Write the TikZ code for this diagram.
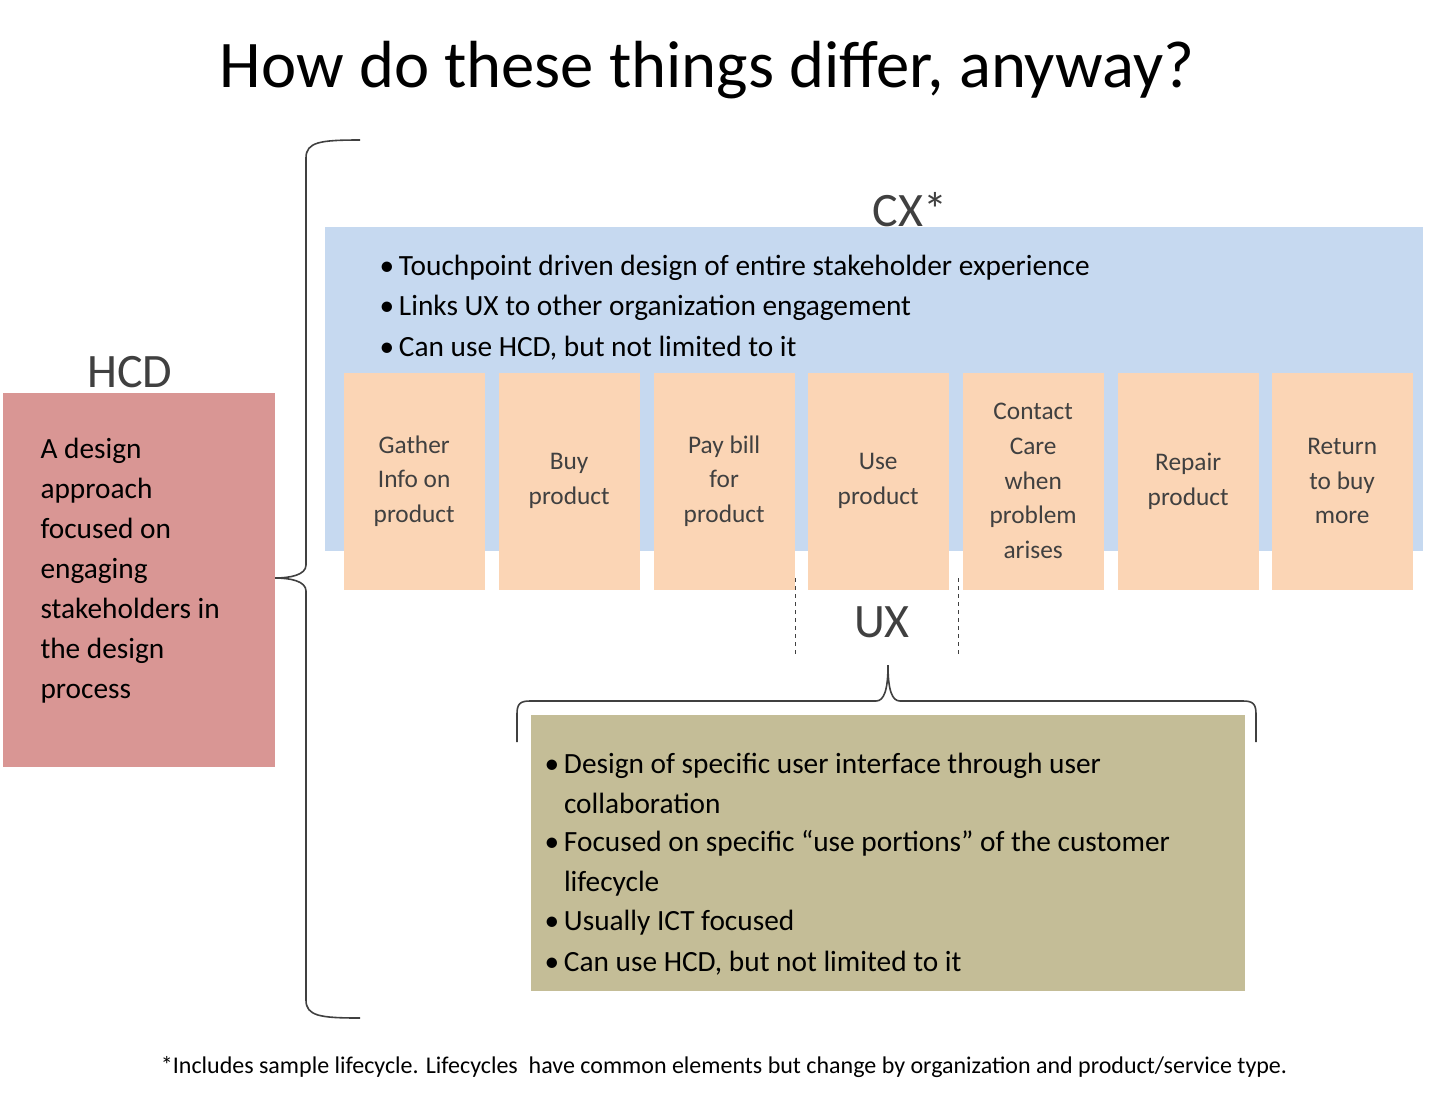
\documentclass[tikz,border=0pt]{standalone}
\usepackage{fontspec}
\setmainfont{Carlito}
\definecolor{cxblue}{RGB}{198,217,240}
\definecolor{stepfill}{RGB}{251,213,181}
\definecolor{hcdpink}{RGB}{217,150,148}
\definecolor{uxolive}{RGB}{196,189,151}
\definecolor{darktext}{RGB}{64,64,64}
\tikzset{every picture/.style={line width=0.75pt}}
\tikzset{
  lifestep/.style={fill=stepfill, draw=none, minimum width=106pt, minimum height=163pt, anchor=north west, inner sep=0pt, text=darktext, align=center, font=\fontsize{19}{26}\selectfont},
  bigtag/.style={text=darktext, font=\fontsize{36}{40}\selectfont, inner sep=0.75pt},
  bullet/.style={anchor=west, inner sep=0.75pt, font=\fontsize{22}{30}\selectfont},
  brace/.style={draw={rgb, 255:red, 64; green, 64; blue, 64}, line width=1.2pt}
}
\begin{document}
\begin{tikzpicture}[x=0.75pt,y=0.75pt,yscale=-1,xscale=1]
\useasboundingbox (0,0) rectangle (1450,1101);

% Title
\node (title) at (707,70) [inner sep=0.75pt, font=\fontsize{50}{56}\selectfont] {How do these things differ, anyway?};

% Left brace
\draw [brace] (360,140) .. controls (320,140) and (306,142) .. (306,158) -- (306,565) .. controls (306,575) and (290,578) .. (275,578) .. controls (290,578) and (306,581) .. (306,591) -- (306,1000) .. controls (306,1016) and (320,1018) .. (360,1018);

% CX area
\fill [cxblue] (325,227) rectangle (1423,551);
\node (cx) at (910,210) [bigtag] {CX*};
\node (cx1) at (378,268) [bullet] {\textbullet\,Touchpoint driven design of entire stakeholder experience};
\node (cx2) at (378,308) [bullet] {\textbullet\,Links UX to other organization engagement};
\node (cx3) at (378,348) [bullet] {\textbullet\,Can use HCD, but not limited to it};

% Lifecycle steps
\node (gather) at (343,372) [lifestep] {Gather\\Info on\\product};
\node (buy) at (498,372) [lifestep] {Buy\\product};
\node (pay) at (653,372) [lifestep] {Pay bill\\for\\product};
\node (use) at (807,372) [lifestep] {Use\\product};
\node (contact) at (962,372) [lifestep] {Contact\\Care\\when\\problem\\arises};
\node (repair) at (1117,372) [lifestep] {Repair\\product};
\node (return) at (1271,372) [lifestep] {Return\\to buy\\more};

% UX span
\draw [dashed, darktext] (795,578) -- (795,655);
\draw [dashed, darktext] (958,578) -- (958,655);
\node (ux) at (882,622) [bigtag] {UX};

% HCD
\node (hcd) at (130,372) [bigtag] {HCD};
\fill [hcdpink] (3,393) rectangle (275,767);
\node (hcdtext) at (40,571) [anchor=west, inner sep=0pt, align=left, font=\fontsize{22}{30}\selectfont] {A design\\approach\\focused on\\engaging\\stakeholders in\\the design\\process};

% UX brace
\draw [brace] (517,742) -- (517,714) .. controls (517,704) and (520,701) .. (530,701) -- (876,701) .. controls (884,701) and (888,690) .. (888,665) .. controls (888,690) and (892,701) .. (900,701) -- (1243,701) .. controls (1253,701) and (1256,704) .. (1256,714) -- (1256,742);

% UX box
\fill [uxolive] (531,715) rectangle (1245,991);
\node (ux1) at (543,783) [bullet, align=left] {\textbullet\,Design of specific user interface through user\\\phantom{\textbullet\,}collaboration};
\node (ux2) at (543,863) [bullet, align=left] {\textbullet\,Focused on specific “use portions” of the customer\\\phantom{\textbullet\,}lifecycle};
\node (ux3) at (543,923) [bullet] {\textbullet\,Usually ICT focused};
\node (ux4) at (543,963) [bullet] {\textbullet\,Can use HCD, but not limited to it};

% Footnote
\node (note) at (724,1067) [inner sep=0.75pt, font=\fontsize{18}{22}\selectfont] {*Includes sample lifecycle. Lifecycles\ \ have common elements but change by organization and product/service type.};
\end{tikzpicture}
\end{document}
